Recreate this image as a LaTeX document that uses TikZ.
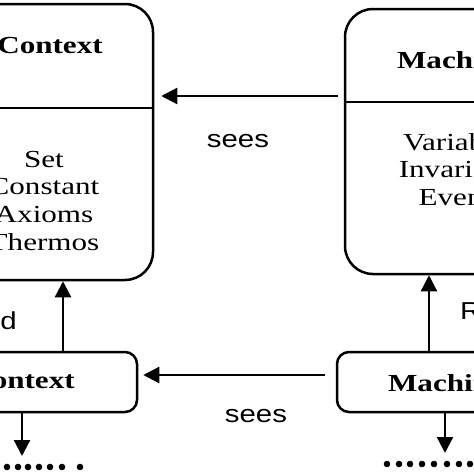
\documentclass[tikz,border=0pt]{standalone}
\usepackage{graphicx}
\usepackage{fontspec}
\setmainfont{Liberation Serif}
\newfontfamily\labelfont{Liberation Sans}
\usetikzlibrary{arrows.meta,calc}
\newcommand{\wide}[1]{\scalebox{1.27}[1]{#1}}
\newcommand{\widelbl}[1]{\scalebox{1.2}[1]{#1}}

\begin{document}
\begin{tikzpicture}[x=1pt,y=-1pt,
    bigbox/.style={draw,line width=2.5pt,rounded corners=28pt,inner sep=0pt},
    smallbox/.style={draw,line width=2.5pt,rounded corners=12pt,minimum height=60pt,inner sep=0pt},
    head/.style={font=\bfseries\fontsize{24.5}{28}\selectfont,anchor=base,inner sep=0pt},
    item/.style={font=\fontsize{24.5}{28}\selectfont,anchor=base,inner sep=0pt},
    lbl/.style={font=\labelfont\fontsize{24.5}{28}\selectfont,inner sep=0pt},
    arr/.style={line width=2.2pt,-{Triangle[length=16pt,width=16pt]}},
    split/.style={line width=1.6pt}
  ]
  \clip (0,0) rectangle (474,474);
  \useasboundingbox (0,0) rectangle (474,474);

  % the context
  \node[bigbox,minimum width=218pt,minimum height=276pt] (ctx) at (44,142) {};
  \draw[split] (ctx.west |- 0,108) -- (ctx.east |- 0,108);
  \node[head] (ctxname) at (50,53) {\wide{Context}};
  \foreach \t [count=\i] in {Set,Constant,Axioms,Thermos}
    \node[item] (ctx\i) at (44,139.3+27.7*\i) {\wide{\t}};

  % the machine
  \node[bigbox,minimum width=230pt,minimum height=265pt] (mch) at (460,141.5) {};
  \draw[split] (mch.west |- 0,102) -- (mch.east |- 0,102);
  \node[head] (mchname) at (455,68) {\wide{Machine}};
  \foreach \t [count=\i] in {Variables,Invariants,Events}
    \node[item] (mch\i) at (461,122.5+27.5*\i) {\wide{\t}};

  % the lower context and machine
  \node[smallbox,minimum width=230pt] (ctxb) at (22,382) {};
  \node[head] (ctxbname) at (22,388) {\wide{Context}};
  \node[smallbox,minimum width=216pt] (mchb) at (445,382) {};
  \node[head] (mchbname) at (446,391) {\wide{Machine}};

  % the edges
  \draw[arr,shorten <=6pt,shorten >=7pt] (mch.west |- 0,96) -- (ctx.east |- 0,96);
  \draw[arr,shorten <=11pt,shorten >=5pt] (mchb.west |- 0,375) -- (ctxb.east |- 0,375);
  \draw[arr] (ctxb.north -| 63,0) -- (ctx.south -| 63,0);
  \draw[arr] (mchb.north -| 429,0) -- (mch.south -| 429,0);
  \coordinate (ctxend) at (22,456);
  \coordinate (mchend) at (445,453);
  \draw[arr] (ctxb.south) -- (ctxend);
  \draw[arr] (mchb.south) -- (mchend);

  % the labels
  \node[lbl] (sees1) at (238,141) {\widelbl{sees}};
  \node[lbl] (sees2) at (256,416) {\widelbl{sees}};
  \node[lbl,anchor=base east] (ext) at (17,329) {\widelbl{Extend}};
  \node[lbl,anchor=base west] (ref) at (460,319) {\widelbl{Refine}};

  % the dots
  \foreach \x in {7,18,28,39,50,62,80}
    \fill (\x,467) circle (3.3pt);
  \foreach \x in {387,399,410,422,434,447,459,470}
    \fill (\x,464) circle (3.3pt);
\end{tikzpicture}
\end{document}
